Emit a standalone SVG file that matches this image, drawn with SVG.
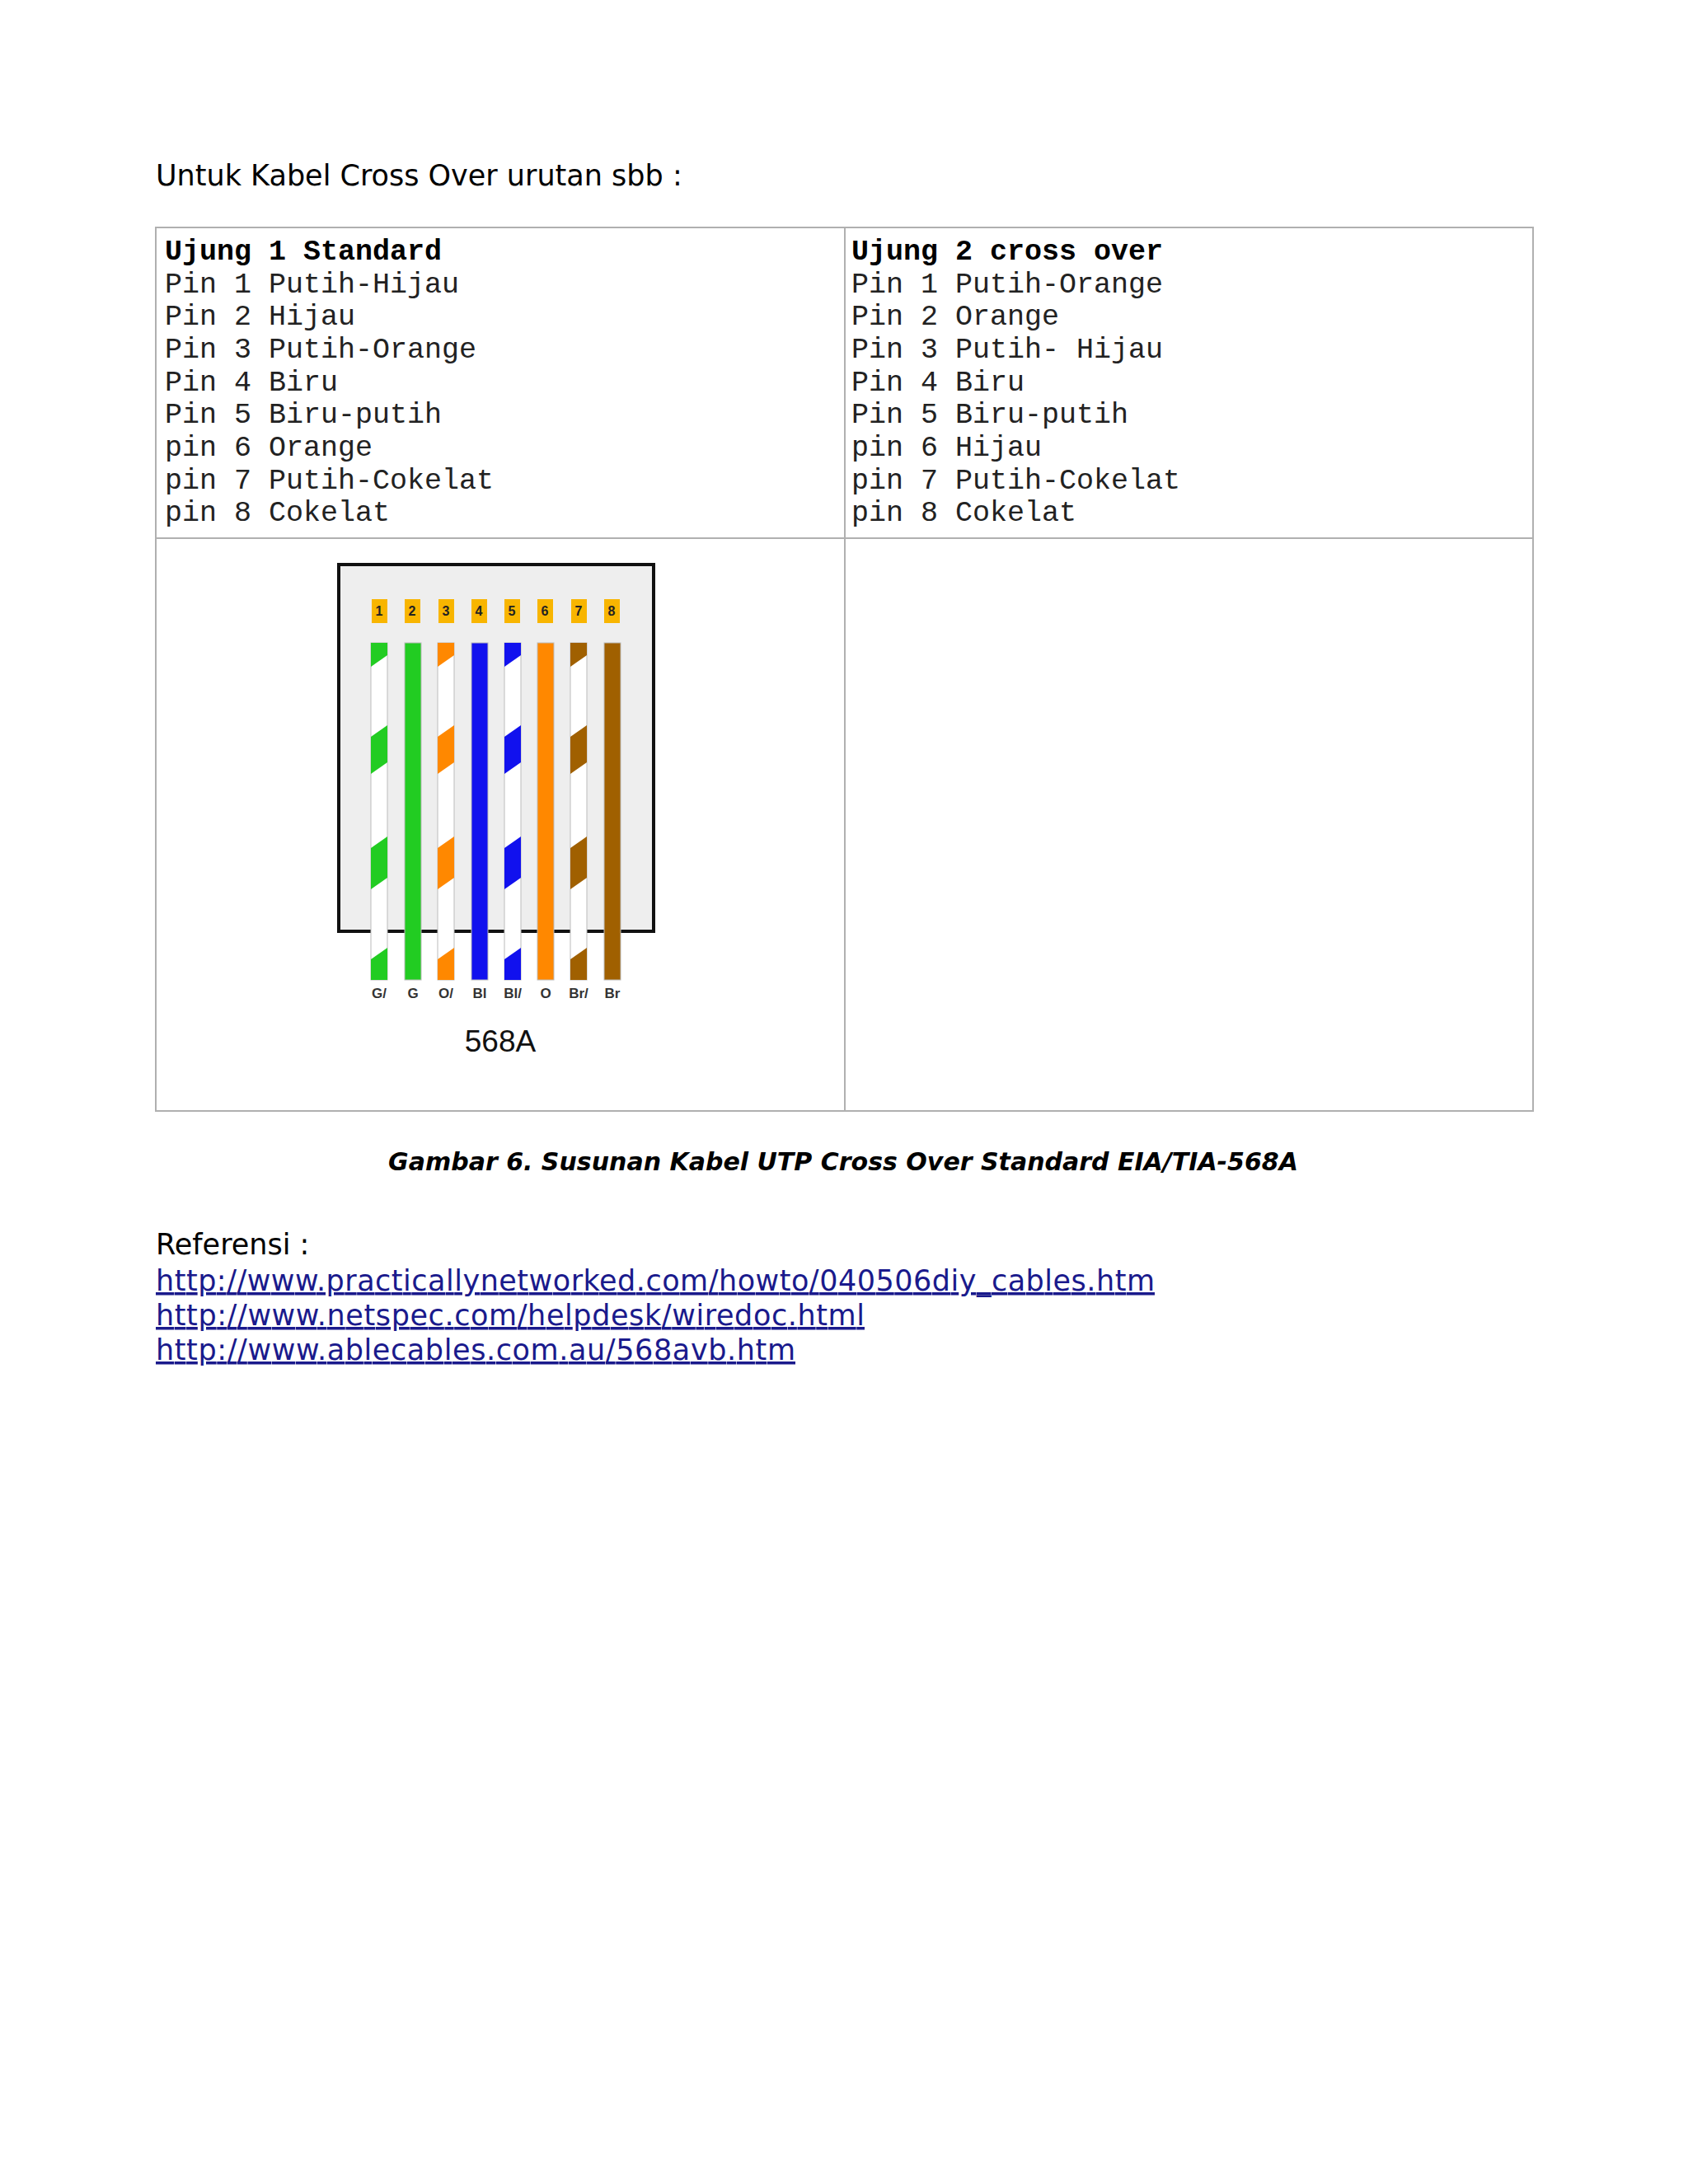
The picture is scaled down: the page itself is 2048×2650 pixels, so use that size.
<svg xmlns="http://www.w3.org/2000/svg" xmlns:xlink="http://www.w3.org/1999/xlink" width="2048" height="2650" viewBox="0 0 2048 2650">
<style>
.t{font-family:"DejaVu Sans","Liberation Sans",sans-serif;fill:#000}
.m{font-family:"Liberation Mono","Courier New",monospace;font-size:35px;fill:#222}
.mb{font-family:"Liberation Mono","Courier New",monospace;font-size:35px;font-weight:bold;fill:#000}
.pn{font-family:"Liberation Sans",Arial,sans-serif;font-size:16px;font-weight:bold;fill:#222;text-anchor:middle}
.lb{font-family:"Liberation Sans",Arial,sans-serif;font-size:17px;font-weight:bold;fill:#333;text-anchor:middle}
.lk{font-family:"DejaVu Sans","Liberation Sans",sans-serif;font-size:35px;fill:#1a1a8c;text-decoration:underline}
.grid{stroke:#b0b0b0;stroke-width:2;fill:none}
</style>
<defs>
<g id="stripes">
<polygon points="0,780 20,780 20,795 0,809" fill="currentColor"/>
<polygon points="0,894 20,880 20,925 0,939" fill="currentColor"/>
<polygon points="0,1029 20,1015 20,1065 0,1079" fill="currentColor"/>
<polygon points="0,1164 20,1150 20,1189 0,1189" fill="currentColor"/>
</g>
</defs>
<rect width="2048" height="2650" fill="#fff"/>
<text class="t" x="189" y="225" font-size="35">Untuk Kabel Cross Over urutan sbb :</text>
<g id="table">
<rect class="grid" x="189" y="276" width="1671" height="1072"/>
<line class="grid" x1="189" y1="653" x2="1860" y2="653"/>
<line class="grid" x1="1025" y1="276" x2="1025" y2="1348"/>
</g>
<g id="col1">
<text class="mb" x="200" y="315">Ujung 1 Standard</text>
<text class="m" x="200" y="355">Pin 1 Putih-Hijau</text>
<text class="m" x="200" y="394">Pin 2 Hijau</text>
<text class="m" x="200" y="434">Pin 3 Putih-Orange</text>
<text class="m" x="200" y="474">Pin 4 Biru</text>
<text class="m" x="200" y="513">Pin 5 Biru-putih</text>
<text class="m" x="200" y="553">pin 6 Orange</text>
<text class="m" x="200" y="593">pin 7 Putih-Cokelat</text>
<text class="m" x="200" y="632">pin 8 Cokelat</text>
</g>
<g id="col2">
<text class="mb" x="1033" y="315">Ujung 2 cross over</text>
<text class="m" x="1033" y="355">Pin 1 Putih-Orange</text>
<text class="m" x="1033" y="394">Pin 2 Orange</text>
<text class="m" x="1033" y="434">Pin 3 Putih- Hijau</text>
<text class="m" x="1033" y="474">Pin 4 Biru</text>
<text class="m" x="1033" y="513">Pin 5 Biru-putih</text>
<text class="m" x="1033" y="553">pin 6 Hijau</text>
<text class="m" x="1033" y="593">pin 7 Putih-Cokelat</text>
<text class="m" x="1033" y="632">pin 8 Cokelat</text>
</g>
<g id="connector">
<rect x="411" y="685" width="382" height="445" fill="#eeeeee" stroke="#111" stroke-width="4"/>
<g fill="#f8b500">
<rect x="451" y="727" width="19" height="29"/><rect x="491" y="727" width="19" height="29"/>
<rect x="532" y="727" width="19" height="29"/><rect x="572" y="727" width="19" height="29"/>
<rect x="612" y="727" width="19" height="29"/><rect x="652" y="727" width="19" height="29"/>
<rect x="693" y="727" width="19" height="29"/><rect x="733" y="727" width="19" height="29"/>
</g>
<text class="pn" x="460" y="747">1</text><text class="pn" x="500" y="747">2</text>
<text class="pn" x="541" y="747">3</text><text class="pn" x="581" y="747">4</text>
<text class="pn" x="621" y="747">5</text><text class="pn" x="661" y="747">6</text>
<text class="pn" x="702" y="747">7</text><text class="pn" x="742" y="747">8</text>
<g stroke="#bbb" stroke-width="1">
<rect x="450" y="780" width="20" height="409" fill="#fff"/>
<rect x="491" y="780" width="20" height="409" fill="#22cc22"/>
<rect x="531" y="780" width="20" height="409" fill="#fff"/>
<rect x="572" y="780" width="20" height="409" fill="#1111ee"/>
<rect x="612" y="780" width="20" height="409" fill="#fff"/>
<rect x="652" y="780" width="20" height="409" fill="#ff8800"/>
<rect x="692" y="780" width="20" height="409" fill="#fff"/>
<rect x="733" y="780" width="20" height="409" fill="#a06000"/>
</g>
<use xlink:href="#stripes" x="450" style="color:#22cc22"/>
<use xlink:href="#stripes" x="531" style="color:#ff8800"/>
<use xlink:href="#stripes" x="612" style="color:#1111ee"/>
<use xlink:href="#stripes" x="692" style="color:#a06000"/>
<text class="lb" x="460" y="1211">G/</text><text class="lb" x="501" y="1211">G</text>
<text class="lb" x="541" y="1211">O/</text><text class="lb" x="582" y="1211">Bl</text>
<text class="lb" x="622" y="1211">Bl/</text><text class="lb" x="662" y="1211">O</text>
<text class="lb" x="702" y="1211">Br/</text><text class="lb" x="743" y="1211">Br</text>
<text x="607" y="1276" font-family="Liberation Sans,Arial,sans-serif" font-size="37" text-anchor="middle" fill="#111">568A</text>
</g>
<text class="t" x="1023" y="1420" font-size="30" font-weight="bold" font-style="italic" text-anchor="middle">Gambar 6. Susunan Kabel UTP Cross Over Standard  EIA/TIA-568A</text>
<text class="t" x="189" y="1522" font-size="35">Referensi :</text>
<text class="lk" x="189" y="1566" textLength="1212">http://www.practicallynetworked.com/howto/040506diy_cables.htm</text>
<text class="lk" x="189" y="1608" textLength="860">http://www.netspec.com/helpdesk/wiredoc.html</text>
<text class="lk" x="189" y="1650" textLength="776">http://www.ablecables.com.au/568avb.htm</text>
</svg>
